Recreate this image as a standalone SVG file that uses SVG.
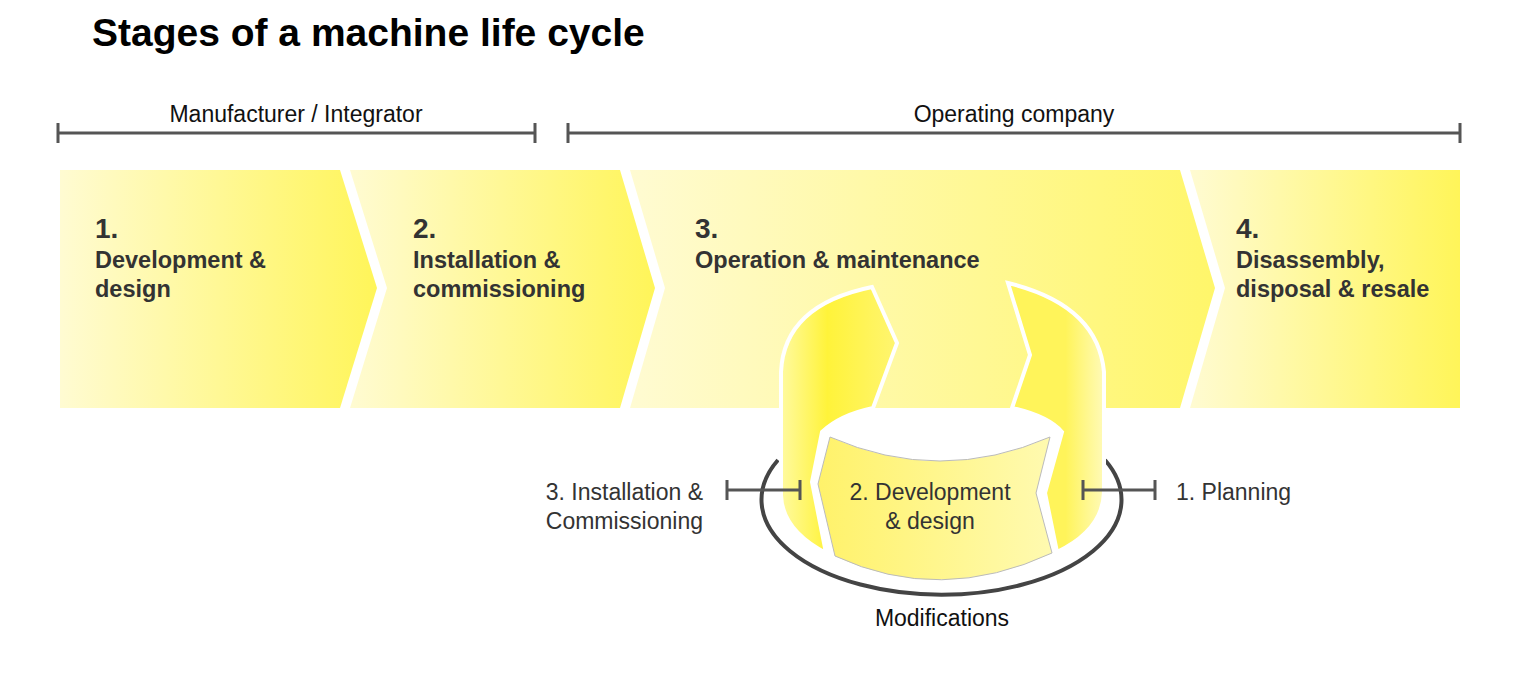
<svg xmlns="http://www.w3.org/2000/svg" width="1520" height="677" viewBox="0 0 1520 677">
<defs>
<linearGradient id="g" x1="0" y1="0" x2="1" y2="0"><stop offset="0" stop-color="#fffbd2"/><stop offset="1" stop-color="#fff559"/></linearGradient>
<linearGradient id="g3" x1="0" y1="0" x2="1" y2="0"><stop offset="0" stop-color="#fffbd2"/><stop offset="1" stop-color="#fff66a"/></linearGradient>
<linearGradient id="gl" x1="0" y1="0" x2="1" y2="0"><stop offset="0" stop-color="#fffaa0"/><stop offset="0.4" stop-color="#fff33a"/><stop offset="1" stop-color="#fff570"/></linearGradient>
<linearGradient id="gs" x1="0" y1="0" x2="1" y2="0"><stop offset="0" stop-color="#fff45a"/><stop offset="0.6" stop-color="#fff45a"/><stop offset="1" stop-color="#fffab8"/></linearGradient>
<linearGradient id="gf" x1="0" y1="0" x2="1" y2="0"><stop offset="0" stop-color="#fff26a"/><stop offset="1" stop-color="#fffab0"/></linearGradient>
</defs>
<style>
text{font-family:"Liberation Sans",Arial,sans-serif;fill:#333}
.h{font-weight:bold;font-size:23.5px}
.n{font-weight:bold;font-size:28px}
.l{font-size:23px}
.br{stroke:#555;stroke-width:3;fill:none}
.pc{stroke:#fff;stroke-width:4}
</style>
<text x="92" y="46" style="font-weight:bold;font-size:39px;fill:#000">Stages of a machine life cycle</text>
<g id="brackets">
<path class="br" d="M58,133H535M58,123V143M535,123V143"/>
<path class="br" d="M568,133H1460M568,123V143M1460,123V143"/>
<text class="l" x="296" y="122" text-anchor="middle" style="fill:#111">Manufacturer / Integrator</text>
<text class="l" x="1014" y="122" text-anchor="middle" style="fill:#111">Operating company</text>
</g>
<g id="stage1"><path d="M60,170H340L377,288L340,408H60Z" fill="url(#g)"/>
<text class="n" x="95" y="238">1.</text><text class="h" x="95" y="268">Development &amp;</text><text class="h" x="95" y="297">design</text></g>
<g id="stage2"><path d="M350,170H620L655,288L620,408H350L387,288Z" fill="url(#g)"/>
<text class="n" x="413" y="238">2.</text><text class="h" x="413" y="268">Installation &amp;</text><text class="h" x="413" y="297">commissioning</text></g>
<g id="stage3"><path d="M630,170H1180L1215,288L1180,408H630L665,288Z" fill="url(#g3)"/>
<text class="n" x="695" y="238">3.</text><text class="h" x="695" y="268">Operation &amp; maintenance</text></g>
<g id="stage4"><path d="M1190,170H1460V408H1190L1225,288Z" fill="url(#g)"/>
<text class="n" x="1236" y="238">4.</text><text class="h" x="1236" y="268">Disassembly,</text><text class="h" x="1236" y="297">disposal &amp; resale</text></g>
<g id="modifications">
<path d="M778,460A180,95 0 1,0 1105,460" stroke="#444" stroke-width="4" fill="none"/>
<path class="pc" d="M872,287L897,343L873,408Q840,415 822,432L812,482L826,553Q782,530 781,495V372Q784,305 872,287Z" fill="url(#gl)"/>
<path class="pc" d="M1008,283L1030,355L1012,408Q1048,416 1062,432L1045,493L1057,552Q1103,530 1104,492V372Q1098,305 1008,283Z" fill="url(#gs)"/>
<path d="M830,437Q940,485 1050,437L1036,493L1052,553Q940,605 835,556L818,484Z" fill="url(#gf)" stroke="#bbb" stroke-width="1"/>
<text class="l" x="930" y="500" text-anchor="middle">2. Development</text>
<text class="l" x="930" y="529" text-anchor="middle">&amp; design</text>
</g>
<g id="connectors">
<path class="br" d="M727,490H800M727,480V500M800,480V500"/>
<path class="br" d="M1083,490H1155M1083,480V500M1155,480V500"/>
</g>
<text class="l" x="703" y="500" text-anchor="end">3. Installation &amp;</text>
<text class="l" x="703" y="529" text-anchor="end">Commissioning</text>
<text class="l" x="1176" y="500">1. Planning</text>
<text class="l" x="942" y="626" text-anchor="middle" style="fill:#111">Modifications</text>
</svg>
